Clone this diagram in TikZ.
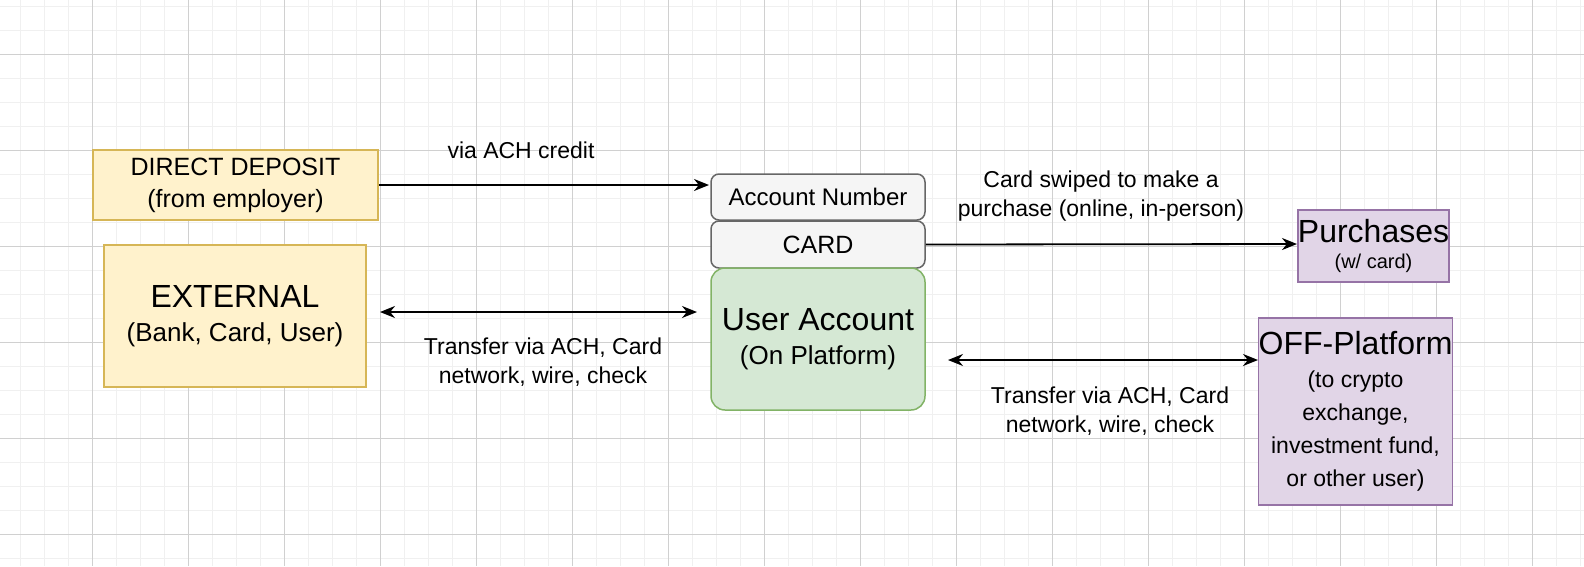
\documentclass[tikz,border=0pt]{standalone}
\usepackage{fontspec}
\setmainfont{Liberation Sans}
\usetikzlibrary{arrows.meta}
\definecolor{minorg}{HTML}{F0F0F0}
\definecolor{majorg}{HTML}{D0D0D0}
\definecolor{yfill}{HTML}{FFF2CC}\definecolor{ydraw}{HTML}{D6B656}
\definecolor{gfill}{HTML}{F5F5F5}\definecolor{gdraw}{HTML}{666666}
\definecolor{grfill}{HTML}{D5E8D4}\definecolor{grdraw}{HTML}{82B366}
\definecolor{pfill}{HTML}{E1D5E7}\definecolor{pdraw}{HTML}{9673A6}
\tikzset{
 box/.style={draw, line width=1.5pt, align=center, inner sep=0pt, text=black},
 ybox/.style={box, fill=yfill, draw=ydraw},
 gbox/.style={box, fill=gfill, draw=gdraw, rounded corners=8pt},
 grbox/.style={box, fill=grfill, draw=grdraw, rounded corners=14pt},
 pbox/.style={box, fill=pfill, draw=pdraw},
 conn/.style={line width=1.8pt, -{Stealth[length=15pt,width=12pt]}},
 bconn/.style={line width=1.8pt, {Stealth[length=15pt,width=12pt]}-{Stealth[length=15pt,width=12pt]}},
 lbl/.style={align=center, font=\fontsize{23}{29}\selectfont}
}
\begin{document}
\begin{tikzpicture}[x=1pt,y=-1pt]
\useasboundingbox (0,0) rectangle (1584,566);
\fill[white] (0,0) rectangle (1584,566);
\foreach \i in {0,...,66} \draw[minorg, line width=0.8pt] (20+24*\i,0) -- (20+24*\i,566);
\foreach \j in {0,...,23} \draw[minorg, line width=0.8pt] (0,6+24*\j) -- (1584,6+24*\j);
\foreach \i in {0,...,16} \draw[majorg, line width=0.8pt] (92+96*\i,0) -- (92+96*\i,566);
\foreach \j in {0,...,5} \draw[majorg, line width=0.8pt] (0,54+96*\j) -- (1584,54+96*\j);

\node[ybox, minimum width=285pt, minimum height=70pt, font=\fontsize{25}{32}\selectfont] (dd) at (235.5,185) {DIRECT DEPOSIT\\(from employer)};
\node[ybox, minimum width=262pt, minimum height=142pt, font=\fontsize{26}{34}\selectfont] (ext) at (235,316) {\fontsize{32}{38}\selectfont EXTERNAL\\(Bank, Card, User)};
\node[gbox, minimum width=214pt, minimum height=46pt, font=\fontsize{24}{28}\selectfont] (acct) at (818,197) {Account Number};
\node[gbox, minimum width=214pt, minimum height=47pt, font=\fontsize{25}{28}\selectfont] (card) at (818,244.5) {CARD};
\node[grbox, minimum width=214pt, minimum height=142pt, font=\fontsize{26}{34}\selectfont] (ua) at (818,339) {\fontsize{32}{38}\selectfont User Account\\(On Platform)};
\node[pbox, minimum width=149pt, minimum height=72pt, font=\fontsize{20}{26}\selectfont] (pur) at (1373.5,246) {\fontsize{32}{34}\selectfont Purchases\\(w/ card)};
\node[pbox, minimum width=185pt, minimum height=187pt, font=\fontsize{23}{33}\selectfont] (off) at (1355.5,411.5) {\fontsize{32}{40}\selectfont OFF-Platform\\(to crypto\\exchange,\\investment fund,\\or other user)};

\coordinate (a1) at (dd.east);
\coordinate (a2) at (709,185);
\draw[conn] (a1) -- (a2);
\node[lbl] (l1) at (521,150) {via ACH credit};

\coordinate (b1) at (380,312);
\coordinate (b2) at (697,312);
\draw[bconn] (b1) -- (b2);
\node[lbl] (l2) at (543,362) {Transfer via ACH, Card\\network, wire, check};

\coordinate (c2) at (1297,244);
\draw[conn] (card.east) -- (c2);
\node[lbl] (l3) at (1101,196) {Card swiped to make a\\purchase (online, in-person)};

\coordinate (d1) at (948,360);
\coordinate (d2) at (1258,360);
\draw[bconn] (d1) -- (d2);
\node[lbl] (l4) at (1110,411) {Transfer via ACH, Card\\network, wire, check};
\end{tikzpicture}
\end{document}
